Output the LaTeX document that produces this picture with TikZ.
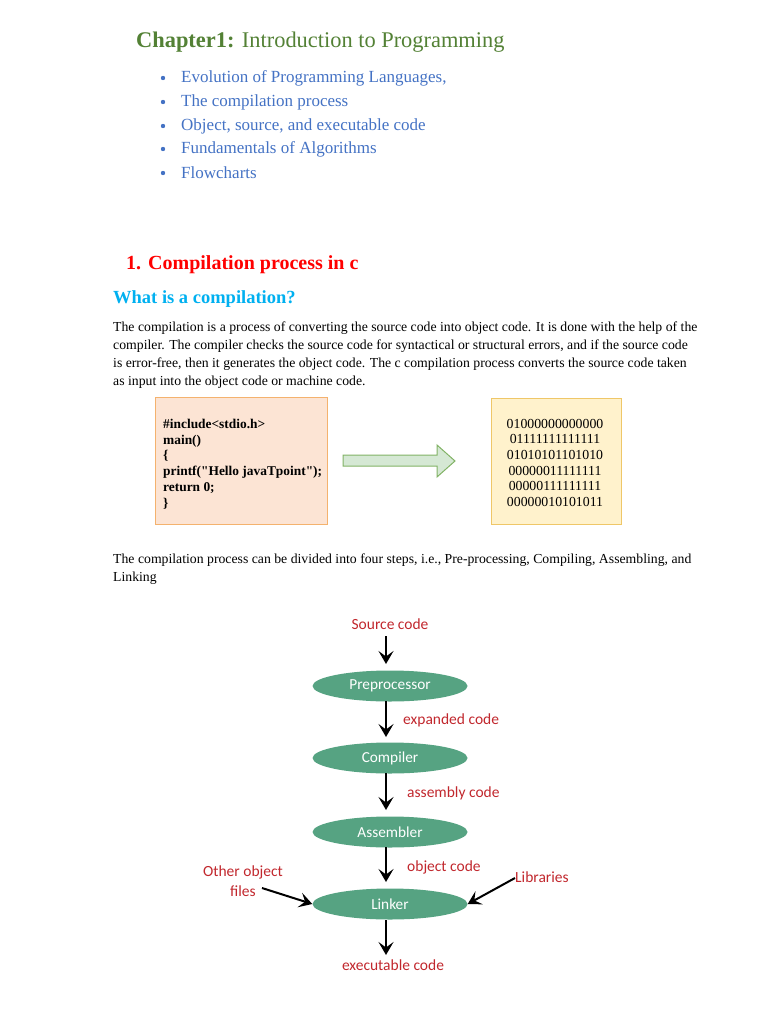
\documentclass[tikz,border=0pt]{standalone}
\usepackage{fontspec}
\setmainfont{Liberation Serif}
\newfontfamily\flowfont{Carlito}
\usetikzlibrary{shapes.geometric,arrows.meta}
\definecolor{titlegreen}{HTML}{538135}
\definecolor{bulletblue}{HTML}{4472C4}
\definecolor{headred}{HTML}{FF0000}
\definecolor{subcyan}{HTML}{00B0F0}
\definecolor{codefill}{HTML}{FCE4D4}
\definecolor{codeedge}{HTML}{F4B26E}
\definecolor{binfill}{HTML}{FFF2CC}
\definecolor{binedge}{HTML}{EFC768}
\definecolor{arrfill}{HTML}{D5E8D4}
\definecolor{arredge}{HTML}{82B366}
\definecolor{stepgreen}{HTML}{56A382}
\definecolor{flowred}{HTML}{C1272D}
\tikzset{
  bullettext/.style={anchor=west,inner sep=0pt,text=bulletblue,font=\fontsize{17}{19}\selectfont},
  bulletdot/.style={circle,fill=bulletblue,inner sep=0pt,minimum size=4.4pt},
  bodytext/.style={anchor=north west,inner sep=0pt,align=left,font=\fontsize{13.75}{17.9}\selectfont},
  stepnode/.style={ellipse,fill=stepgreen,text=white,minimum width=155pt,minimum height=31pt,inner sep=0pt,font=\flowfont\fontsize{15.3}{17}\selectfont},
  flowlabel/.style={text=flowred,inner sep=0pt,font=\flowfont\fontsize{15.5}{19}\selectfont},
  flowarrow/.style={-{Stealth[length=13pt,width=15pt,inset=5.5pt]},line width=2pt,black},
}
\begin{document}
\begin{tikzpicture}[x=1pt,y=-1pt]
\useasboundingbox (0,0) rectangle (768,1024);
% Title
\node[anchor=west,inner sep=0pt,text=titlegreen,font=\fontsize{22.4}{25}\selectfont] (title) at (136,42) {\textbf{Chapter1:} Introduction to Programming};
% Bullets
\foreach \i/\y/\t in {1/78/{Evolution of Programming Languages,},2/102/{The compilation process},3/126/{Object, source, and executable code},4/149/{Fundamentals of Algorithms},5/173/{Flowcharts}}{
  \node[bulletdot] (dot\i) at (163,\y) {};
  \node[bullettext] (item\i) at (181,\y) {\t};
}
% Section heading
\node[anchor=west,inner sep=0pt,text=headred,font=\bfseries\fontsize{20}{24}\selectfont] (sec) at (126,265) {1.\hspace{7pt}Compilation process in c};
\node[anchor=west,inner sep=0pt,text=subcyan,font=\bfseries\fontsize{18.5}{21}\selectfont] (sub) at (113,299) {What is a compilation?};
% Paragraph
\node[bodytext] (para) at (113,322) {The compilation is a process of converting the source code into object code. It is done with the help of the\\compiler. The compiler checks the source code for syntactical or structural errors, and if the source code\\is error-free, then it generates the object code. The c compilation process converts the source code taken\\as input into the object code or machine code.};
% Code box
\node[draw=codeedge,fill=codefill,line width=1pt,minimum width=172pt,minimum height=127pt,inner sep=0pt] (codebox) at (241,460.5) {};
\node[anchor=north west,inner sep=0pt,align=left,font=\bfseries\fontsize{13.4}{15.7}\selectfont] (code) at (163,419) {\#include<stdio.h>\\main()\\\{\\printf(\textquotedbl Hello javaTpoint\textquotedbl);\\return 0;\\\}};
% Block arrow
\draw[draw=arredge,fill=arrfill,line width=1pt,line join=miter] (343,455) -- (437,455) -- (437,445) -- (455,461) -- (437,477) -- (437,466) -- (343,466) -- cycle;
% Binary box
\node[draw=binedge,fill=binfill,line width=1pt,minimum width=130pt,minimum height=126pt,inner sep=0pt] (binbox) at (556,461) {};
\node[anchor=north,inner sep=0pt,align=center,font=\fontsize{13.8}{15.6}\selectfont] (bin) at (555,419) {01000000000000\\01111111111111\\01010101101010\\00000011111111\\00000111111111\\00000010101011};
% Second paragraph
\node[bodytext] (para2) at (113,554) {The compilation process can be divided into four steps, i.e., Pre-processing, Compiling, Assembling, and\\Linking};
% Flowchart
\node[flowlabel] (src) at (390,624) {Source code};
\node[stepnode] (pre) at (390,686) {Preprocessor};
\node[stepnode] (comp) at (390,758) {Compiler};
\node[stepnode] (asm) at (390,832) {Assembler};
\node[stepnode] (link) at (390,904) {Linker};
\node[flowlabel] (exe) at (393,965) {executable code};
\node[flowlabel,anchor=west] (l1) at (403,720) {expanded code};
\node[flowlabel,anchor=west] (l2) at (407,793) {assembly code};
\node[flowlabel,anchor=west] (l3) at (407,867) {object code};
\node[flowlabel,align=center,font=\flowfont\fontsize{15.5}{20}\selectfont] (other) at (243,881) {Other object\\files};
\node[flowlabel,anchor=west] (libs) at (515,877) {Libraries};
\coordinate (otherend) at (262,888);
\coordinate (libsend) at (515,878);
\draw[flowarrow] (386,636) -- (386,664);
\draw[flowarrow] (386,701) -- (386,737);
\draw[flowarrow] (386,773) -- (386,810);
\draw[flowarrow] (386,847) -- (386,882);
\draw[flowarrow] (386,920) -- (386,955);
\draw[flowarrow] (otherend) -- (link.west);
\draw[flowarrow] (libsend) -- (link.east);
\end{tikzpicture}
\end{document}
